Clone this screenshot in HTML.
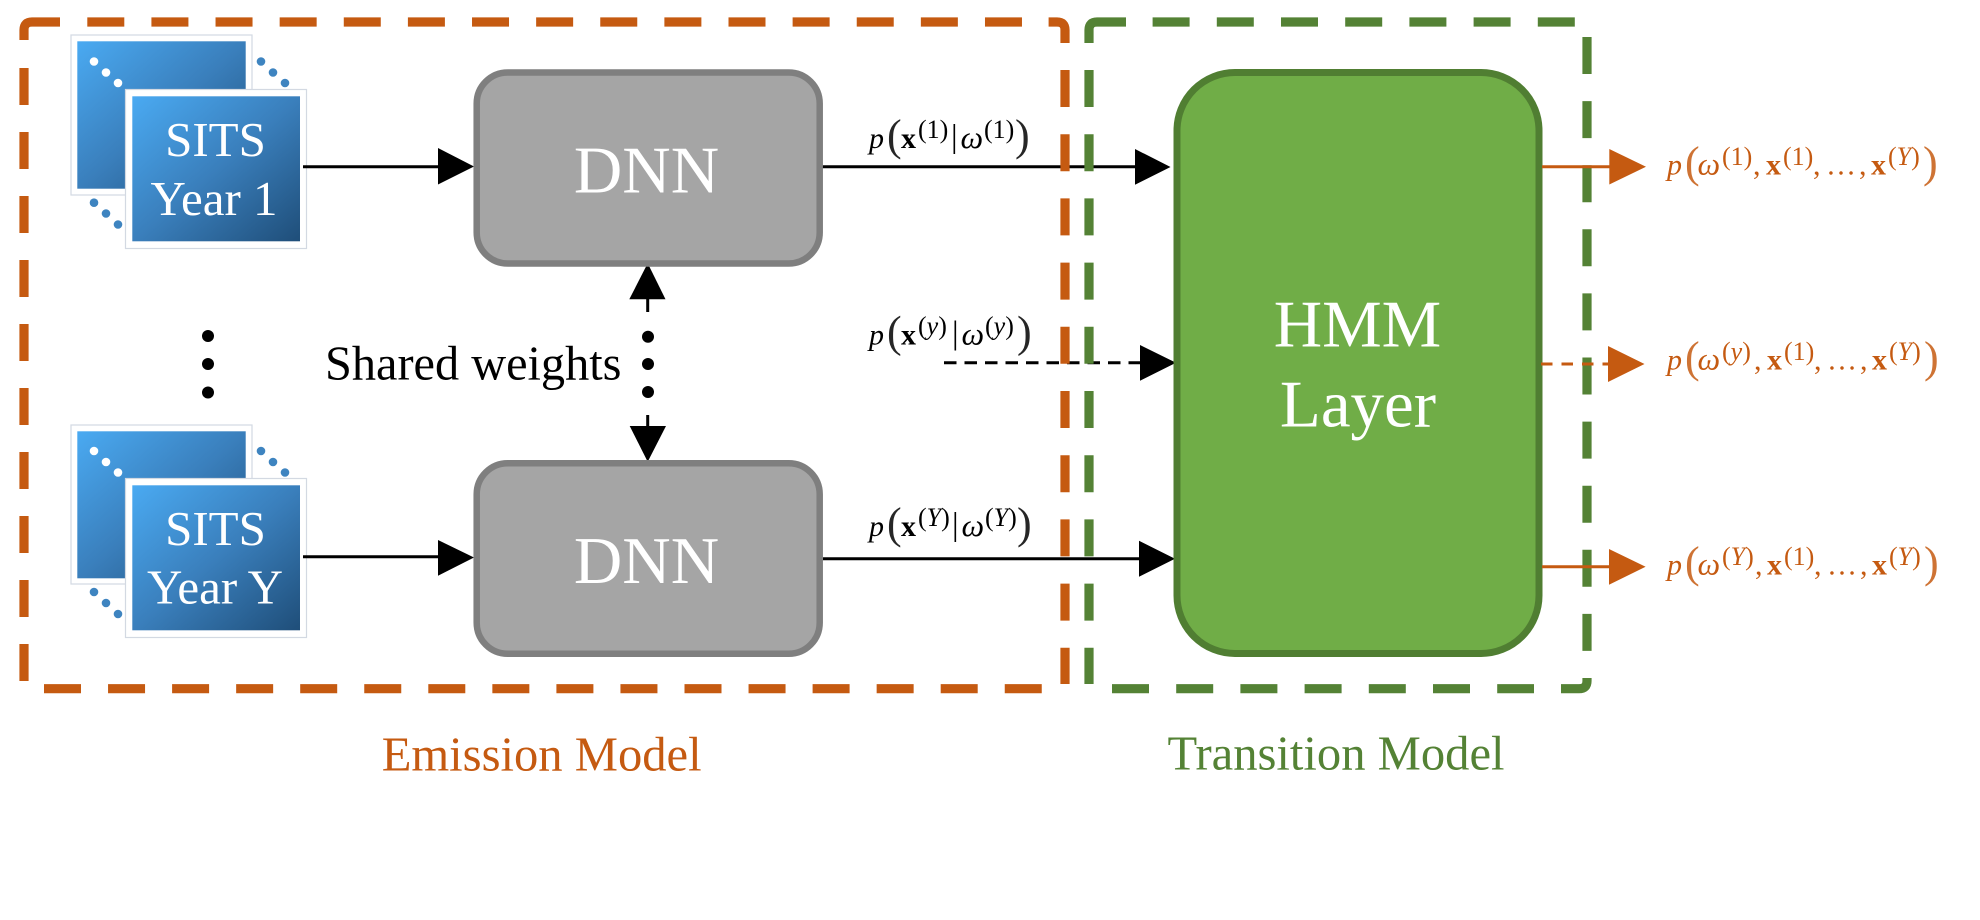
<!DOCTYPE html>
<html>
<head>
<meta charset="utf-8">
<style>
html,body{margin:0;padding:0;background:#fff;width:1980px;height:920px;overflow:hidden}
svg{display:block}
text{font-family:"Liberation Serif",serif}
.m{font-size:30px}
.g{font-size:32px;font-style:italic}
.i{font-style:italic}
.b{font-weight:bold}
.s{font-size:26px}
.p{font-size:44px;fill-opacity:.85}
.w{fill:#fff}
.o{fill:#C55A11}
</style>
</head>
<body>
<svg width="1980" height="920" viewBox="0 0 1980 920" xmlns="http://www.w3.org/2000/svg">
<defs>
<linearGradient id="g" x1="0" y1="0" x2="1" y2="1">
<stop offset="0" stop-color="#4AAAF2"/>
<stop offset=".5" stop-color="#3A7FBC"/>
<stop offset="1" stop-color="#1F4E79"/>
</linearGradient>
</defs>
<rect width="1980" height="920" fill="#fff"/>

<!-- Year 1 stack -->
<rect x="71" y="35" width="181" height="160" fill="#fff" stroke="#D3D9E2" stroke-width="1.2"/>
<rect x="77.3" y="41.3" width="168.4" height="147.4" fill="url(#g)"/>
<circle cx="94" cy="61.5" r="4.3" fill="#fff"/><circle cx="106" cy="72.5" r="4.3" fill="#fff"/><circle cx="118" cy="83" r="4.3" fill="#fff"/>
<circle cx="261" cy="61.5" r="4.3" fill="#3E84C0"/><circle cx="273" cy="72.5" r="4.3" fill="#3E84C0"/><circle cx="285" cy="83" r="4.3" fill="#3E84C0"/>
<circle cx="94" cy="202.7" r="4.3" fill="#3E84C0"/><circle cx="106" cy="213.5" r="4.3" fill="#3E84C0"/><circle cx="118" cy="224.5" r="4.3" fill="#3E84C0"/>
<rect x="125.5" y="89.5" width="181" height="159" fill="#fff" stroke="#D3D9E2" stroke-width="1.2"/>
<rect x="132.3" y="96.3" width="167.7" height="145" fill="url(#g)"/>
<text class="w" x="215.5" y="156" font-size="49" text-anchor="middle">SITS</text>
<text class="w" x="214" y="215" font-size="49" text-anchor="middle">Year 1</text>

<!-- Year Y stack -->
<rect x="71" y="425" width="181" height="159" fill="#fff" stroke="#D3D9E2" stroke-width="1.2"/>
<rect x="77.3" y="431.3" width="168.4" height="147" fill="url(#g)"/>
<circle cx="94" cy="451" r="4.3" fill="#fff"/><circle cx="106" cy="462" r="4.3" fill="#fff"/><circle cx="118" cy="472.5" r="4.3" fill="#fff"/>
<circle cx="261" cy="451" r="4.3" fill="#3E84C0"/><circle cx="273" cy="462" r="4.3" fill="#3E84C0"/><circle cx="285" cy="472.5" r="4.3" fill="#3E84C0"/>
<circle cx="94" cy="592" r="4.3" fill="#3E84C0"/><circle cx="106" cy="603" r="4.3" fill="#3E84C0"/><circle cx="118" cy="614" r="4.3" fill="#3E84C0"/>
<rect x="125.5" y="478.5" width="181" height="159" fill="#fff" stroke="#D3D9E2" stroke-width="1.2"/>
<rect x="132.3" y="485.3" width="167.7" height="145" fill="url(#g)"/>
<text class="w" x="215.5" y="545" font-size="49" text-anchor="middle">SITS</text>
<text class="w" x="215" y="603.5" font-size="49" text-anchor="middle">Year Y</text>

<!-- vertical dots -->
<circle cx="208" cy="336" r="6" fill="#000"/><circle cx="208" cy="364" r="6" fill="#000"/><circle cx="208" cy="392.5" r="6" fill="#000"/>

<!-- black connectors -->
<g stroke="#000" stroke-width="3" fill="none">
<path d="M303 166.7H440"/>
<path d="M303 556.7H440"/>
<path d="M820 166.7H1137"/>
<path d="M823 558.7H1141"/>
<path d="M944 362.7H1142" stroke-dasharray="12.5 8"/>
<path d="M647.7 299V312"/>
<path d="M647.7 415V427"/>
</g>
<g fill="#000">
<polygon points="438,148 438,184.5 474,166.5"/>
<polygon points="438,540 438,575.7 474,557.5"/>
<polygon points="1135,149 1135,184.7 1170.5,167"/>
<polygon points="1139,540.7 1139,576.7 1175,558.7"/>
<polygon points="1140,345 1140,380.7 1176,362.7"/>
<polygon points="647.7,263.3 629.3,299.3 665.5,299.3"/>
<polygon points="647.7,461.7 629.7,426 666,426"/>
</g>
<circle cx="648" cy="336.7" r="6" fill="#000"/><circle cx="648" cy="364" r="6" fill="#000"/><circle cx="648" cy="392" r="6" fill="#000"/>

<!-- DNN boxes -->
<rect x="476.7" y="72.5" width="343" height="191" rx="31" fill="#A5A5A5" stroke="#7F7F7F" stroke-width="6.5"/>
<text class="w" x="646.5" y="192.7" font-size="67" text-anchor="middle">DNN</text>
<rect x="476.7" y="463.2" width="343" height="190.6" rx="31" fill="#A5A5A5" stroke="#7F7F7F" stroke-width="6.5"/>
<text class="w" x="646.5" y="583" font-size="67" text-anchor="middle">DNN</text>

<text x="325" y="379.3" font-size="48.3" fill="#000">Shared weights</text>

<!-- black labels -->
<g fill="#000">
<text class="m i" x="869" y="148">p</text>
<text class="p" x="887" y="150">(</text>
<text class="m b" x="901" y="148">x</text>
<text class="s" x="918" y="138">(1)</text>
<text x="951" y="147" font-size="33">|</text>
<text class="g" x="960.5" y="148">ω</text>
<text class="s" x="984" y="138">(1)</text>
<text class="p" x="1015" y="150">)</text>

<text class="m i" x="869" y="344.7">p</text>
<text class="p" x="887" y="346.7">(</text>
<text class="m b" x="901" y="344.7">x</text>
<text class="s" x="918" y="334.7">(<tspan class="i">y</tspan>)</text>
<text x="952" y="343.7" font-size="33">|</text>
<text class="g" x="961.5" y="344.7">ω</text>
<text class="s" x="985" y="334.7">(<tspan class="i">y</tspan>)</text>
<text class="p" x="1017" y="346.7">)</text>

<text class="m i" x="869" y="536">p</text>
<text class="p" x="887" y="538">(</text>
<text class="m b" x="901" y="536">x</text>
<text class="s" x="918" y="526">(<tspan class="i">Y</tspan>)</text>
<text x="952" y="535" font-size="33">|</text>
<text class="g" x="961.5" y="536">ω</text>
<text class="s" x="985" y="526">(<tspan class="i">Y</tspan>)</text>
<text class="p" x="1017" y="538">)</text>
</g>

<!-- HMM -->
<rect x="1177" y="72.5" width="362" height="581" rx="58" fill="#70AD47" stroke="#507E32" stroke-width="7"/>
<text class="w" x="1357.5" y="346.7" font-size="67" text-anchor="middle">HMM</text>
<text class="w" x="1358" y="426.7" font-size="67" text-anchor="middle">Layer</text>

<!-- orange dashed box -->
<g stroke="#C55A11" stroke-width="9.2" fill="none">
<path d="M24 40V30Q24 22 32 22H60"/>
<path d="M87.3 22H1022" stroke-dasharray="37 27.12"/>
<path d="M1048.6 22H1057Q1065 22 1065 30V43"/>
<path d="M24 68V682" stroke-dasharray="37 27"/>
<path d="M44 688.7H1042" stroke-dasharray="37 27.05"/>
<path d="M1065 70V684" stroke-dasharray="37 27.2"/>
</g>
<!-- green dashed box -->
<g stroke="#548235" stroke-width="9.2" fill="none">
<path d="M1089 43V30Q1089 22 1097 22H1126"/>
<path d="M1152.6 22H1575" stroke-dasharray="37 27.2"/>
<path d="M1089 70V684" stroke-dasharray="37 27.2"/>
<path d="M1112 688.7H1534" stroke-dasharray="37 27.2"/>
<path d="M1561 688.7H1579Q1587 688.7 1587 681V678"/>
<path d="M1587 37V651" stroke-dasharray="37 27.1"/>
</g>

<!-- orange connectors -->
<g stroke="#C55A11" stroke-width="3" fill="none">
<path d="M1542 166.7H1611"/>
<path d="M1542 566.7H1611"/>
<path d="M1541 364H1610" stroke-dasharray="11.5 9"/>
</g>
<g fill="#C55A11">
<polygon points="1609.3,149 1609.3,184.5 1646,166.7"/>
<polygon points="1608,346 1608,382 1644.5,364"/>
<polygon points="1609,549 1609,584.7 1645.6,566.7"/>
</g>

<!-- orange labels -->
<g class="o">
<text class="m i" x="1667" y="174.5">p</text>
<text class="p" x="1685" y="177">(</text>
<text class="g" x="1697.5" y="174.5">ω</text>
<text class="s" x="1722" y="165">(1)</text>
<text class="m" x="1753" y="174.5">,</text>
<text class="m b" x="1766" y="174.5">x</text>
<text class="s" x="1783" y="165">(1)</text>
<text class="m" x="1813" y="174.5">,</text>
<text class="m" x="1826" y="174.5">…</text>
<text class="m" x="1859" y="174.5">,</text>
<text class="m b" x="1871" y="174.5">x</text>
<text class="s" x="1888" y="165">(<tspan class="i">Y</tspan>)</text>
<text class="p" x="1923" y="177">)</text>

<text class="m i" x="1667" y="369.5">p</text>
<text class="p" x="1685" y="372">(</text>
<text class="g" x="1697.5" y="369.5">ω</text>
<text class="s" x="1722" y="360">(<tspan class="i">y</tspan>)</text>
<text class="m" x="1754" y="369.5">,</text>
<text class="m b" x="1767" y="369.5">x</text>
<text class="s" x="1784" y="360">(1)</text>
<text class="m" x="1814" y="369.5">,</text>
<text class="m" x="1827" y="369.5">…</text>
<text class="m" x="1860" y="369.5">,</text>
<text class="m b" x="1872" y="369.5">x</text>
<text class="s" x="1889" y="360">(<tspan class="i">Y</tspan>)</text>
<text class="p" x="1924" y="372">)</text>

<text class="m i" x="1667" y="574.5">p</text>
<text class="p" x="1685" y="577">(</text>
<text class="g" x="1697.5" y="574.5">ω</text>
<text class="s" x="1722" y="565">(<tspan class="i">Y</tspan>)</text>
<text class="m" x="1755" y="574.5">,</text>
<text class="m b" x="1767" y="574.5">x</text>
<text class="s" x="1784" y="565">(1)</text>
<text class="m" x="1814" y="574.5">,</text>
<text class="m" x="1827" y="574.5">…</text>
<text class="m" x="1860" y="574.5">,</text>
<text class="m b" x="1872" y="574.5">x</text>
<text class="s" x="1889" y="565">(<tspan class="i">Y</tspan>)</text>
<text class="p" x="1924" y="577">)</text>
</g>

<!-- captions -->
<text x="381.7" y="770.7" font-size="48.6" fill="#C55A11">Emission Model</text>
<text x="1167.5" y="769.5" font-size="48.6" fill="#548235">Transition Model</text>
</svg>
</body>
</html>
